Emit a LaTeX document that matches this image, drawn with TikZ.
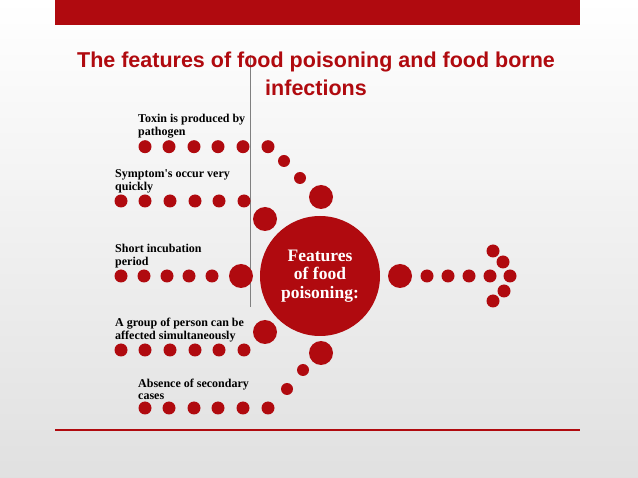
\documentclass[tikz,border=0pt]{standalone}
\usepackage{fontspec}
\setmainfont{Liberation Serif}
\newfontfamily\titlefont{Liberation Sans}
\definecolor{dred}{HTML}{B00A0F}
\begin{document}
\begin{tikzpicture}[x=1pt,y=-1pt,
  dot/.style={circle,fill=dred,inner sep=0pt,minimum size=13pt},
  bigdot/.style={circle,fill=dred,inner sep=0pt,minimum size=24pt},
  lbl/.style={anchor=south west,align=left,font=\bfseries\fontsize{12}{12.5}\selectfont,inner sep=0pt}]
\shade[top color=white,bottom color=black!12] (0,0) rectangle (638,478);
\useasboundingbox (0,0) rectangle (638,478);
\fill[dred] (55,0) rectangle (580,25);
\draw[dred,line width=1.5pt] (55,430) -- (580,430);
\draw[gray,line width=0.8pt] (250,55) -- (250,307);
\node[align=center,text=dred,font=\titlefont\bfseries\fontsize{21.5}{28}\selectfont] (title) at (316,74)
  {The features of food poisoning and food borne\\infections};
\node[circle,fill=dred,minimum size=120pt,inner sep=0pt,text=white,align=center,
  font=\bfseries\fontsize{17.5}{18.5}\selectfont] (c) at (320,276) {Features\\of food\\poisoning:};
% row 1
\foreach \x [count=\i] in {145,169,194,218,243,268} \node[dot] (a\i) at (\x,146.7) {};
\node[dot,minimum size=12pt] (a7) at (284,161) {};
\node[dot,minimum size=12pt] (a8) at (300,178) {};
\node[bigdot] (a9) at (321,197) {};
\node[lbl] (la) at (138,138) {Toxin is produced by\\pathogen};
% row 2
\foreach \x [count=\i] in {121,145,170,195,219,244} \node[dot] (b\i) at (\x,201) {};
\node[bigdot] (b7) at (265,219) {};
\node[lbl] (lb) at (115,193) {Symptom\textquotesingle s occur very\\quickly};
% row 3
\foreach \x [count=\i] in {121,144,167,189,212} \node[dot] (d\i) at (\x,276) {};
\node[bigdot] (d6) at (241,276) {};
\node[lbl] (ld) at (115,268) {Short incubation\\period};
% row 4
\foreach \x [count=\i] in {121,145,170,195,219,244} \node[dot] (e\i) at (\x,350) {};
\node[bigdot] (e7) at (265,332) {};
\node[lbl] (le) at (115,342) {A group of person can be\\affected simultaneously};
% row 5
\foreach \x [count=\i] in {145,169,194,218,243,268} \node[dot] (f\i) at (\x,408) {};
\node[dot,minimum size=12pt] (f7) at (287,389) {};
\node[dot,minimum size=12pt] (f8) at (303,370) {};
\node[bigdot] (f9) at (321,353) {};
\node[lbl] (lf) at (138,400) {Absence of secondary\\cases};
% right arrow
\node[bigdot] (r0) at (400,276) {};
\foreach \x [count=\i] in {427,448,469,490,510} \node[dot] (r\i) at (\x,276) {};
\node[dot] (s1) at (493,251) {};
\node[dot] (s2) at (503,262) {};
\node[dot] (s3) at (504,291) {};
\node[dot] (s4) at (493,301) {};
\end{tikzpicture}
\end{document}
